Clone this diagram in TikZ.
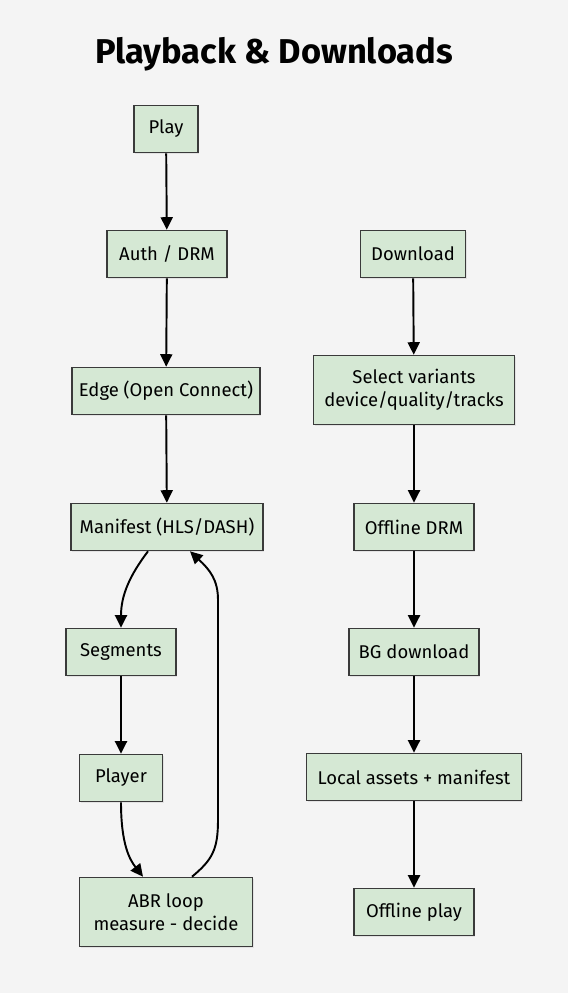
\documentclass[tikz,border=0pt]{standalone}
\usepackage{fontspec}
\setmainfont{Fira Sans}
\usetikzlibrary{arrows.meta, shadows}

\definecolor{boxfill}{HTML}{D5E8D4}
\definecolor{boxline}{HTML}{3A3A3A}
\definecolor{canvas}{HTML}{F4F4F4}

\begin{document}
\begin{tikzpicture}[
    x=0.02cm, y=-0.02cm,
    step box/.style={rectangle, draw=boxline, line width=0.9pt, fill=boxfill, minimum height=0.94cm, align=center, font=\fontsize{10.5}{13}\selectfont, inner sep=2pt, drop shadow={shadow xshift=0.6pt, shadow yshift=-0.6pt, opacity=0.15}},
    arrow/.style={-{Triangle[length=2.5mm, width=2.4mm]}, line width=1.1pt},
]

% Canvas
\fill[canvas] (0,0) rectangle (568,993);
\useasboundingbox (0,0) rectangle (568,993);

% Title
\node[font=\fontsize{19.6}{23}\selectfont\bfseries] (title) at (274,54) {Playback \& Downloads};

% Playback column
\node[step box, minimum width=1.28cm] (play) at (166,129) {Play};
\node[step box, minimum width=2.4cm] (auth) at (167,254) {Auth / DRM};
\node[step box, minimum width=3.76cm] (edge) at (166,391) {Edge (Open Connect)};
\node[step box, minimum width=3.84cm] (manifest) at (167,527) {Manifest (HLS/DASH)};
\node[step box, minimum width=2.2cm] (segments) at (121,652) {Segments};
\node[step box, minimum width=1.66cm] (player) at (121,778) {Player};
\node[step box, minimum width=3.46cm, minimum height=1.38cm] (abr) at (166,912) {ABR loop\\measure - decide};

% Downloads column
\node[step box, minimum width=2.1cm] (download) at (413,254) {Download};
\node[step box, minimum width=4.02cm, minimum height=1.38cm] (select) at (414,390) {Select variants\\device/quality/tracks};
\node[step box, minimum width=2.4cm] (offdrm) at (414,527) {Offline DRM};
\node[step box, minimum width=2.6cm] (bgdl) at (414,652) {BG download};
\node[step box, minimum width=4.3cm] (local) at (414,777) {Local assets + manifest};
\node[step box, minimum width=2.4cm] (offplay) at (414,912) {Offline play};

% Arrows
\draw[arrow] (play) -- (auth);
\draw[arrow] (auth) -- (edge);
\draw[arrow] (edge) -- (manifest);
\draw[arrow] ([xshift=-0.38cm]manifest.south) .. controls (130,575) and (121,595) .. (segments.north);
\draw[arrow] (segments) -- (player);
\draw[arrow] (player.south) .. controls (121,845) and (130,860) .. ([xshift=-0.46cm]abr.north);
\draw[arrow] ([xshift=0.52cm]abr.north) .. controls (212,860) and (218,850) .. (218,820) -- (218,600) .. controls (218,580) and (210,570) .. ([xshift=0.46cm]manifest.south);

\draw[arrow] (download) -- (select);
\draw[arrow] (select) -- (offdrm);
\draw[arrow] (offdrm) -- (bgdl);
\draw[arrow] (bgdl) -- (local);
\draw[arrow] (local) -- (offplay);

\end{tikzpicture}
\end{document}
